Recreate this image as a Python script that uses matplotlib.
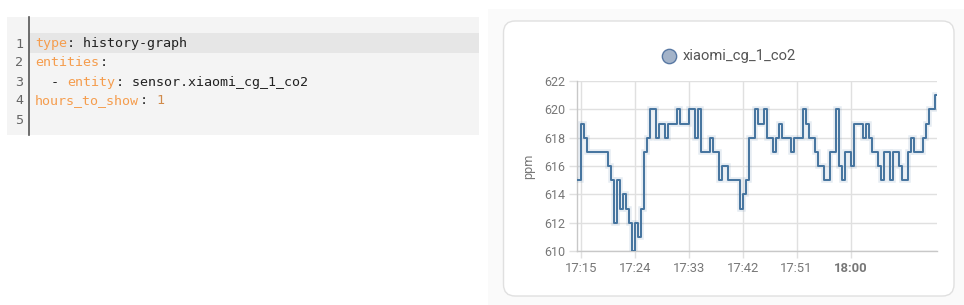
import matplotlib
matplotlib.use("Agg")
import matplotlib.pyplot as plt
import matplotlib.dates as mdates
from matplotlib.patches import FancyBboxPatch, Rectangle
import pandas as pd

# ---------------- data ----------------
day = "2024-01-01 "
change_times = [
    "17:14:30", "17:15:00", "17:15:30", "17:16:00", "17:19:30", "17:20:00", "17:20:30",
    "17:21:00", "17:21:30", "17:22:00", "17:22:30", "17:23:00", "17:23:30", "17:24:00",
    "17:24:30", "17:25:00", "17:25:30", "17:26:00", "17:26:30", "17:27:30", "17:28:00",
    "17:29:00", "17:29:30", "17:31:00", "17:31:30", "17:33:00", "17:34:00", "17:34:30",
    "17:35:00", "17:36:30", "17:37:00", "17:38:00", "17:38:30", "17:39:30", "17:41:30",
    "17:42:00", "17:42:30", "17:43:00", "17:44:00", "17:44:30", "17:45:30", "17:46:00",
    "17:47:00", "17:47:30", "17:48:00", "17:48:30", "17:50:00", "17:50:30", "17:52:00",
    "17:52:30", "17:53:00", "17:54:00", "17:54:30", "17:55:30", "17:56:30", "17:57:30",
    "17:58:00", "17:58:30", "17:59:00", "18:00:00", "18:00:30", "18:02:00", "18:02:30",
    "18:03:00", "18:03:30", "18:04:30", "18:05:00", "18:05:30", "18:06:30", "18:07:00",
    "18:08:00", "18:08:30", "18:09:30", "18:10:00", "18:10:30", "18:12:00", "18:12:30",
    "18:13:00", "18:14:00",
]
co2_ppm = [
    615, 619, 618, 617, 616, 615, 612,
    615, 613, 614, 613, 612, 610, 612,
    611, 613, 617, 618, 620, 618, 619,
    618, 619, 620, 619, 620, 618, 620,
    617, 618, 617, 615, 616, 615, 613,
    614, 615, 618, 620, 619, 620, 618,
    617, 618, 619, 618, 617, 618, 620,
    619, 618, 617, 616, 615, 617, 620,
    616, 615, 617, 616, 619, 618, 619,
    618, 617, 616, 615, 617, 615, 617,
    616, 615, 617, 618, 617, 618, 619,
    620, 621,
]
now_time = "18:14:22"
window_start = "17:14:26"
window_end = "18:14:22"
x_ticks = ["17:15", "17:24", "17:33", "17:42", "17:51", "18:00"]
y_ticks = [610, 612, 614, 616, 618, 620, 622]
entity_name = "xiaomi_cg_1_co2"
unit = "ppm"
yaml_lines = [
    [("type", "key"), (": history-graph", "txt")],
    [("entities", "key"), (":", "txt")],
    [("  - ", "txt"), ("entity", "key"), (": sensor.xiaomi_cg_1_co2", "txt")],
    [("hours_to_show", "key"), (": ", "txt"), ("1", "num")],
    [],
]

# ---------------- figure ----------------
W, H = 964, 305
fig = plt.figure(figsize=(W / 100, H / 100), dpi=100)
fig.patch.set_facecolor("white")


def fx(x):
    return x / W


def fy(y):
    return 1 - y / H


# right panel background
fig.patches.append(Rectangle((fx(488), 0), 1 - fx(488), fy(9), transform=fig.transFigure,
                             facecolor="#fafafa", edgecolor="none", zorder=0))
# card
fig.patches.append(FancyBboxPatch((fx(503.5), fy(296)), fx(954) - fx(503.5), fy(21) - fy(296),
                                  boxstyle="round,pad=0,rounding_size=0.012",
                                  transform=fig.transFigure, mutation_aspect=W / H,
                                  facecolor="white", edgecolor="#e0e0e0", lw=1.0, zorder=1))
# code editor
fig.patches.append(Rectangle((fx(7), fy(135)), fx(479) - fx(7), fy(17) - fy(135),
                             transform=fig.transFigure, facecolor="#f4f4f4",
                             edgecolor="none", zorder=1))
fig.patches.append(Rectangle((fx(29), fy(53)), fx(479) - fx(29), fy(33) - fy(53),
                             transform=fig.transFigure, facecolor="#e6e6e6",
                             edgecolor="none", zorder=1))
fig.lines.append(plt.Line2D([fx(28.5), fx(28.5)], [fy(17), fy(135)], transform=fig.transFigure,
                            color="#555555", lw=1.2, zorder=2))

colors = {"key": "#f59d4e", "txt": "#222222", "num": "#d08a4a"}
mono = "DejaVu Sans Mono"
fs_code = 9.6
cw = 8.07
for i, segs in enumerate(yaml_lines):
    ybase = 47.5 + 19 * i
    fig.text(fx(23.5), fy(ybase), str(i + 1), ha="right", va="baseline",
             family=mono, fontsize=fs_code, color="#666666")
    n = 0
    for s, kind in segs:
        fig.text(fx(35 + n * cw), fy(ybase), s, ha="left", va="baseline",
                 family=mono, fontsize=fs_code, color=colors[kind])
        n += len(s)

# ---------------- chart ----------------
ax = fig.add_axes([fx(577.3), fy(251), fx(936.7) - fx(577.3), fy(81) - fy(251)])
ax.set_facecolor("white")
ax.set_zorder(3)

t = pd.to_datetime([day + s for s in change_times] + [day + now_time])
v = co2_ppm + [co2_ppm[-1]]
line_color = "#44739e"
ax.step(t, v, where="post", color=line_color, alpha=0.13, lw=4.0, solid_joinstyle="miter",
        zorder=3)
ax.step(t, v, where="post", color=line_color, lw=1.4, zorder=4)

ax.set_xlim(pd.Timestamp(day + window_start), pd.Timestamp(day + window_end))
ax.set_ylim(610, 622)
ax.set_yticks(y_ticks)
ax.set_xticks(pd.to_datetime([day + s for s in x_ticks]))
ax.xaxis.set_major_formatter(mdates.DateFormatter("%H:%M"))

ax.grid(True, color="#e0e0e0", lw=1.0, zorder=0)
for sp in ["top", "right"]:
    ax.spines[sp].set_visible(False)
for sp in ["left", "bottom"]:
    ax.spines[sp].set_color("#c8c8c8")
    ax.spines[sp].set_linewidth(1.0)

ax.tick_params(axis="y", length=6, width=1, color="#e0e0e0", pad=2.5,
               labelsize=9.0, labelcolor="#777777")
ax.tick_params(axis="x", length=5, width=1, color="#e0e0e0", pad=3,
               labelsize=9.4, labelcolor="#777777")
for lab in ax.get_yticklabels() + ax.get_xticklabels():
    lab.set_family("Roboto")
xl = ax.get_xticklabels()
xl[-1].set_fontweight("bold")
ax.set_xticklabels(xl)

ax.set_ylabel(unit, family="Roboto", fontsize=9.0, color="#777777", labelpad=7)

# legend
fig.lines.append(plt.Line2D([fx(669)], [fy(56)], transform=fig.transFigure, marker="o",
                            markersize=10.3, markerfacecolor="#a3b3c9",
                            markeredgecolor="#5878a3", markeredgewidth=1.0,
                            linestyle="none", zorder=5))
fig.text(fx(682.5), fy(56), entity_name, ha="left", va="center", family="Roboto",
         fontsize=10.6, color="#555555", zorder=5)

fig.savefig("out.png", dpi=100)
